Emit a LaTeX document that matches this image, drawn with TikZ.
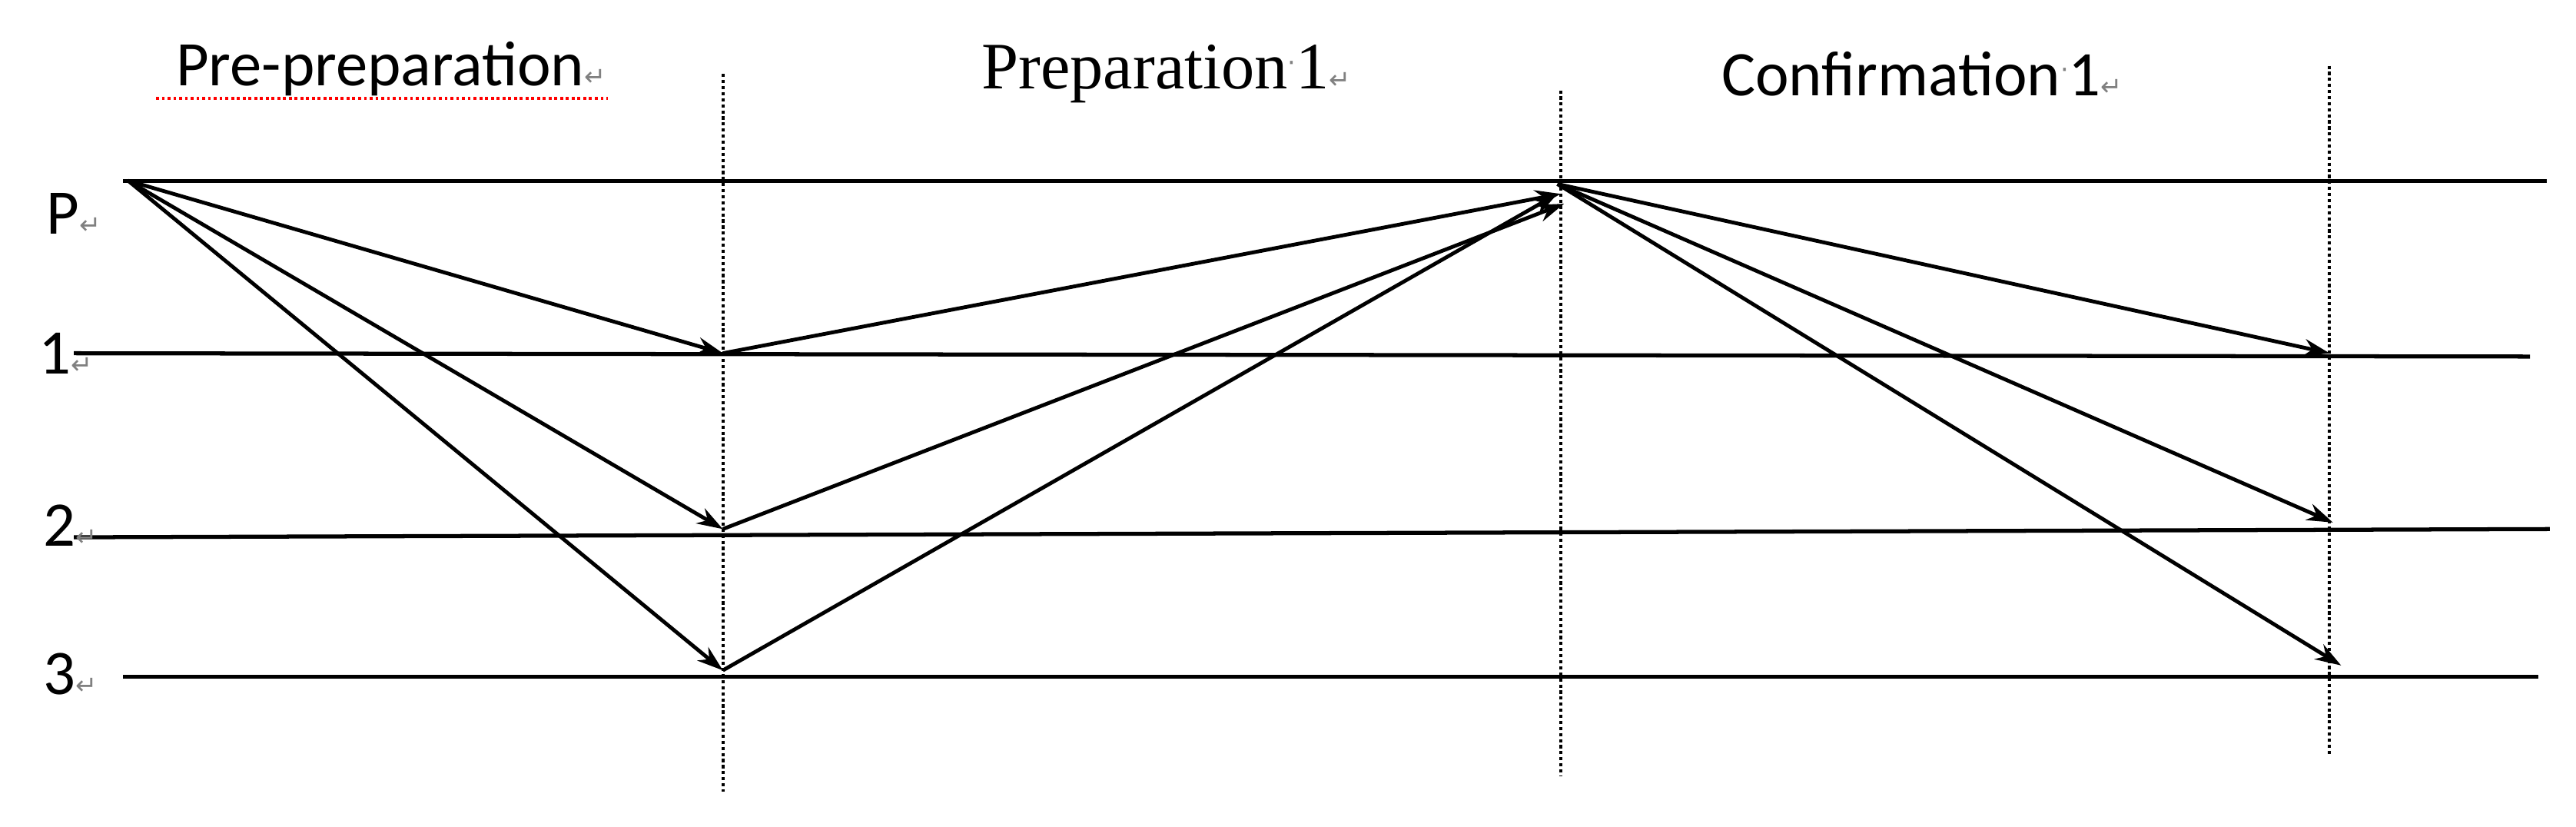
\documentclass[tikz,border=0pt]{standalone}
\usepackage{fontspec}
\setmainfont{Carlito}
\newfontfamily\serifx{Liberation Serif}
\newfontfamily\symf{DejaVu Sans}
\usetikzlibrary{arrows.meta}
\newcommand{\rt}{{\color{gray}\symf\small ↵}}
\newcommand{\md}{{\color{gray}\raisebox{0.55ex}{\symf\small·}}}
\begin{document}
\begin{tikzpicture}[x=0.02cm,y=-0.02cm,
  lane/.style={line width=1.4pt},
  sep/.style={line width=1.1pt,densely dotted},
  msg/.style={line width=1.3pt,-{Stealth[length=9pt,width=6pt]}},
  lbl/.style={font=\fontsize{22}{24}\selectfont,inner sep=0pt}]
\useasboundingbox (0,0) rectangle (1568,503);
% lanes
\draw[lane] (75,110) -- (1550,110);
\draw[lane] (45,215) -- (1540,217);
\draw[lane] (45,327) -- (1552,322);
\draw[lane] (75,412) -- (1545,412);
% separators
\draw[sep] (440,45) -- (440,482);
\draw[sep] (950,55) -- (950,472);
\draw[sep] (1418,40) -- (1418,460);
% lane labels
\node[lbl] (lp) at (45,130) {P\rt};
\node[lbl] (l1) at (40,215) {1\rt};
\node[lbl] (l2) at (43,320) {2\rt};
\node[lbl] (l3) at (43,410) {3\rt};
% phase labels
\node[lbl] (h1) at (238,42) {Pre-preparation\rt};
\draw[red,densely dotted,line width=1pt] (95,60) -- (370,60);
\node[lbl,font=\serifx\fontsize{23}{25}\selectfont] (h2) at (710,45) {Preparation\md1\rt};
\node[lbl] (h3) at (1170,45) {Confirmation\md1\rt};
% points
\coordinate (s) at (78,110);
\coordinate (a1) at (440,215);
\coordinate (a2) at (440,322);
\coordinate (a3) at (440,408);
\coordinate (m) at (948,112);
\coordinate (m1) at (950,118);
\coordinate (m2) at (952,124);
\coordinate (m3) at (948,118);
\coordinate (c1) at (1418,215);
\coordinate (c2) at (1420,318);
\coordinate (c3) at (1425,405);
\draw[msg] (s) -- (a1);
\draw[msg] (s) -- (a2);
\draw[msg] (s) -- (a3);
\draw[msg] (a1) -- (m1);
\draw[msg] (a2) -- (m2);
\draw[msg] (a3) -- (m3);
\draw[msg] (m) -- (c1);
\draw[msg] (m) -- (c2);
\draw[msg] (m) -- (c3);
\end{tikzpicture}
\end{document}
